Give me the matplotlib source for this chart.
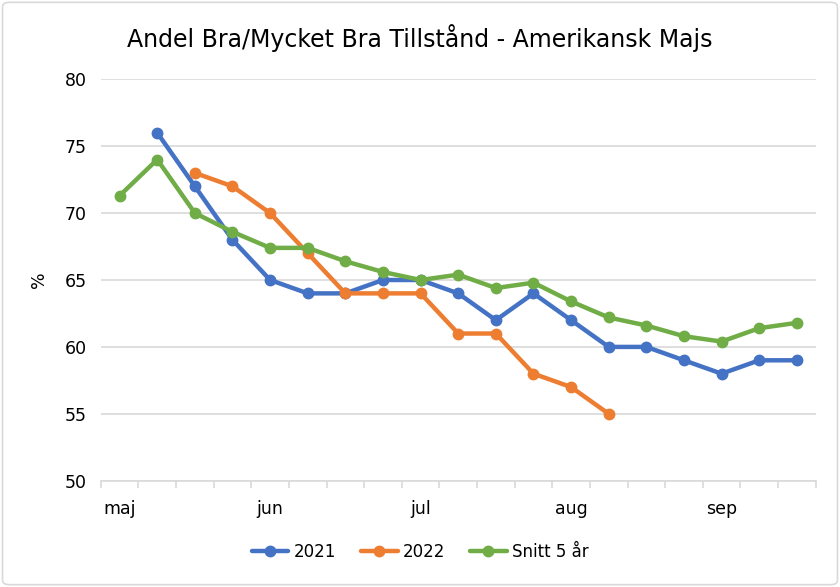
import numpy as np
import matplotlib.pyplot as plt
from matplotlib.patches import FancyBboxPatch

# ---------------------------------------------------------------
# Data (weekly observations, read from chart)
# ---------------------------------------------------------------
month_labels = ["maj", "jun", "jul", "aug", "sep"]
month_index = [0, 4, 8, 12, 16]
n_weeks = 19

y2021 = [np.nan, 76, 72, 68, 65, 64, 64, 65, 65, 64, 62, 64, 62, 60, 60, 59, 58, 59, 59]
y2022 = [np.nan, np.nan, 73, 72, 70, 67, 64, 64, 64, 61, 61, 58, 57, 55,
         np.nan, np.nan, np.nan, np.nan, np.nan]
snitt = [71.3, 74, 70, 68.6, 67.4, 67.4, 66.4, 65.6, 65, 65.4, 64.4, 64.8, 63.4, 62.2,
         61.6, 60.8, 60.4, 61.4, 61.8]

series = [("2021", y2021, "#4472C4"),
          ("2022", y2022, "#ED7D31"),
          ("Snitt 5 år", snitt, "#70AD47")]

# ---------------------------------------------------------------
# Plot
# ---------------------------------------------------------------
fig = plt.figure(figsize=(8.4, 5.87), dpi=100)
ax = fig.add_axes([0.120, 0.181, 0.851, 0.684])

x = np.arange(n_weeks)
for name, vals, col in series:
    ax.plot(x, vals, color=col, lw=3.2, marker="o", ms=7.5, label=name,
            solid_capstyle="round")

ax.set_xlim(-0.5, n_weeks - 0.5)
ax.set_ylim(50, 80)
ax.set_yticks(np.arange(50, 81, 5))
ax.grid(axis="y", color="#D9D9D9", lw=1.2)
ax.set_axisbelow(True)

ax.set_xticks(month_index)
ax.set_xticklabels(month_labels)
ax.set_xticks(np.arange(-0.5, n_weeks, 1), minor=True)
ax.tick_params(axis="x", which="major", length=0, pad=14, labelsize=12.5)
ax.tick_params(axis="x", which="minor", length=5, color="#D9D9D9", width=1.2)
ax.tick_params(axis="y", length=0, labelsize=12.5, pad=10)

for s in ["top", "right", "left"]:
    ax.spines[s].set_visible(False)
ax.spines["bottom"].set_color("#D9D9D9")
ax.spines["bottom"].set_linewidth(1.2)

ax.set_ylabel("%", fontsize=12.5, labelpad=12)
fig.text(0.5, 0.935, "Andel Bra/Mycket Bra Tillstånd - Amerikansk Majs",
         ha="center", va="center", fontsize=17)

fig.legend(loc="center", bbox_to_anchor=(0.5, 0.06), ncol=3, frameon=False,
           fontsize=12, handlelength=2.2, columnspacing=1.5, handletextpad=0.3)

# figure border
fig.patches.append(FancyBboxPatch((0.003, 0.004), 0.994, 0.992,
                                  boxstyle="round,pad=0,rounding_size=0.008",
                                  transform=fig.transFigure, fill=False,
                                  edgecolor="#D9D9D9", lw=1.2))

fig.savefig("out.png", dpi=100)
